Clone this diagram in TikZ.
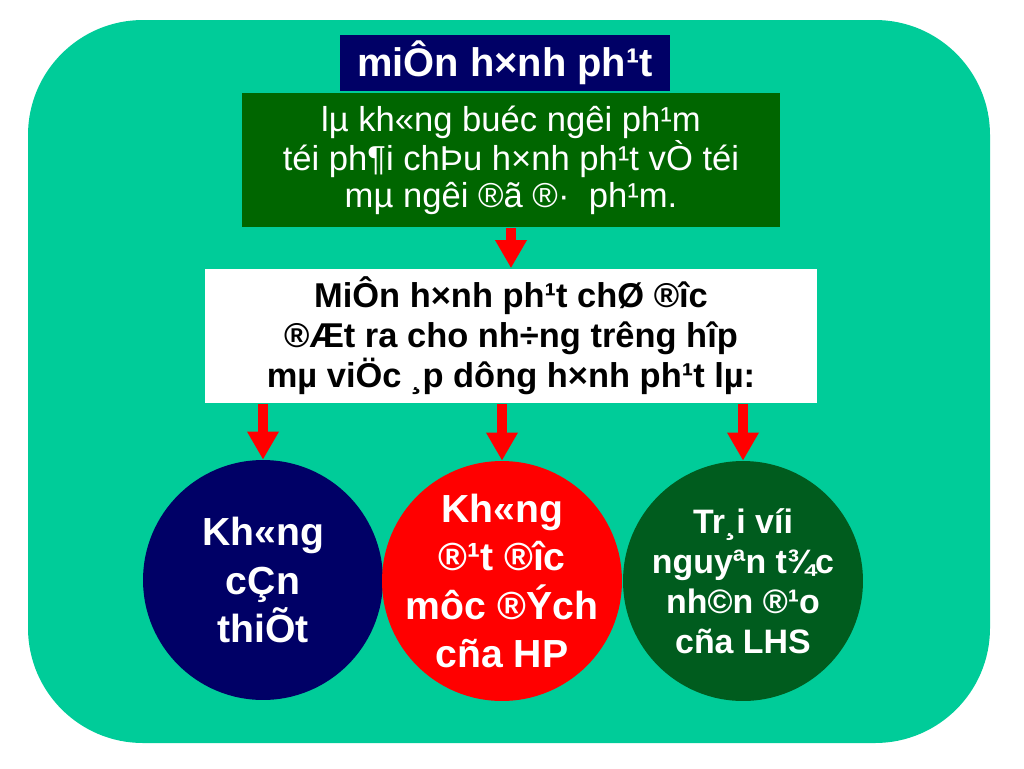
\documentclass[tikz,border=0pt]{standalone}
\usepackage{fontspec}
\setmainfont{Liberation Sans}
\usetikzlibrary{arrows.meta}
\definecolor{sea}{RGB}{0,204,153}
\definecolor{navy}{RGB}{0,0,102}
\definecolor{leaf}{RGB}{0,102,0}
\definecolor{pine}{RGB}{0,92,30}
\tikzset{
  panel/.style={inner sep=0pt, align=center},
  ball/.style={circle, minimum size=4.8cm, inner sep=-1.5cm, align=center, text=white, font=\bfseries\fontsize{22.3}{27.5}\selectfont},
  down/.style={draw=red, line width=5.2pt, -{Triangle[width=17pt,length=16pt]}},
}
\begin{document}
\begin{tikzpicture}[x=0.02cm, y=-0.02cm]
\useasboundingbox (0,0) rectangle (1024,768);
\fill[sea, rounded corners=2.3cm] (28,20) rectangle (990,743);
% boxes
\node[panel, fill=navy, text=white, minimum width=6.6cm, minimum height=1.14cm, font=\bfseries\fontsize{22.7}{27}\selectfont] (title) at (505,63) {miÔn h×nh ph¹t};
\node[panel, fill=leaf, text=white, minimum width=10.76cm, minimum height=2.7cm, font=\fontsize{19.7}{21}\selectfont] (rule) at (511,160) {lµ kh«ng buéc ngêi ph¹m\\ téi ph¶i chÞu h×nh ph¹t vÒ téi\\ mµ ngêi ®ã ®·~ ph¹m.};
\node[panel, fill=white, text=black, minimum width=12.26cm, minimum height=2.7cm, font=\bfseries\fontsize{19.6}{22.8}\selectfont] (cases) at (511,336) {MiÔn h×nh ph¹t chØ ®îc\\ ®Æt ra cho nh÷ng trêng hîp\\ mµ viÖc ¸p dông h×nh ph¹t lµ:};
% circles
\node[ball, fill=navy] (needless) at (263,580) {Kh«ng\\ cÇn\\ thiÕt};
\node[ball, fill=red] (useless) at (502,581) {Kh«ng\\ ®¹t ®îc\\ môc ®Ých\\ cña HP};
\node[ball, fill=pine, font=\bfseries\fontsize{19.3}{22.8}\selectfont] (inhuman) at (743,581) {Tr¸i víi\\ nguyªn t¾c\\ nh©n ®¹o\\ cña LHS};
% arrows
\draw[down] (rule.south) -- (cases.north);
\draw[down] (cases.south -| needless.north) -- (needless.north);
\draw[down] (cases.south -| useless.north) -- (useless.north);
\draw[down] (cases.south -| inhuman.north) -- (inhuman.north);
\end{tikzpicture}
\end{document}
